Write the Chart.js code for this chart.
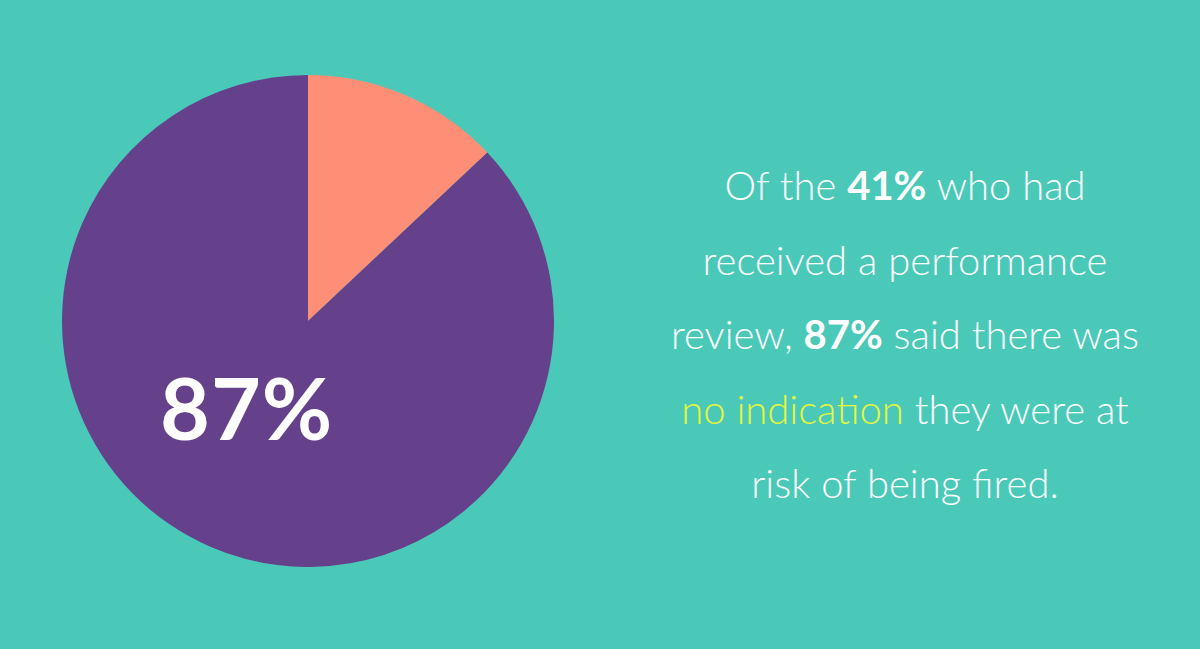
<!DOCTYPE html>
<html>
<head>
<meta charset="utf-8">
<script src="https://cdn.jsdelivr.net/npm/chart.js@4"></script>
<style>
  html, body { margin: 0; padding: 0; }
  body { width: 1200px; height: 649px; background: #4ac9b8; position: relative; overflow: hidden; font-family: Lato, "Open Sans", sans-serif; }
  #pieWrap { position: absolute; left: 62px; top: 75px; width: 492px; height: 492px; }
  #bigLabel { position: absolute; left: 160px; top: 355px; font-size: 86px; font-weight: 700; color: #fff; letter-spacing: 1px; }
  #caption { position: absolute; left: 610px; top: 148px; width: 590px; text-align: center; color: #fff; font-size: 40px; font-weight: 300; line-height: 74.5px; }
  #caption b { font-weight: 700; }
  #caption .hl { color: #e8f53c; }
</style>
</head>
<body>
<div id="pieWrap"><canvas id="pie"></canvas></div>
<div id="bigLabel">87%</div>
<div id="caption">
  Of the <b>41%</b> who had<br>
  received a performance<br>
  review, <b>87%</b> said there was<br>
  <span class="hl">no indication</span> they were at<br>
  risk of being fired.
</div>
<script>
const labels = ["Indication", "No indication"]
const values = [13, 87]
const colors = ["#fe8f76", "#65418c"]

new Chart(document.getElementById("pie"), {
  type: "pie",
  data: {
    labels: labels,
    datasets: [{ data: values, backgroundColor: colors, borderWidth: 0 }]
  },
  options: {
    responsive: true,
    maintainAspectRatio: false,
    animation: false,
    layout: { padding: 0 },
    plugins: { legend: { display: false }, tooltip: { enabled: false } }
  }
})
</script>
</body>
</html>
